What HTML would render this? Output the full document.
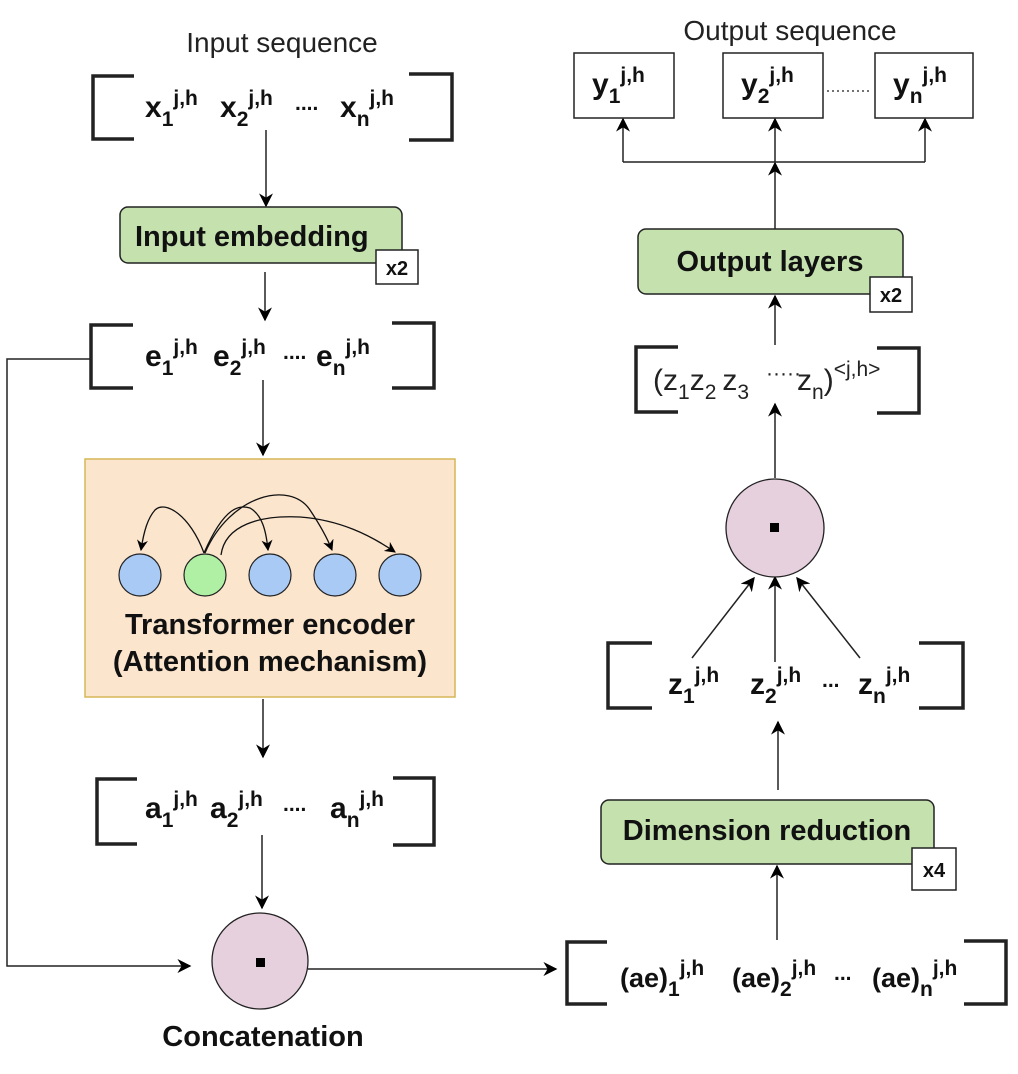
<!DOCTYPE html>
<html><head><meta charset="utf-8"><style>
html,body{margin:0;padding:0;background:#fff;}
svg{display:block;}
text{font-family:"Liberation Sans",Arial,sans-serif;fill:#111;}
.b{font-weight:bold;font-size:29px;}
.m{font-weight:bold;font-size:30px;}
.s{font-size:21px;font-weight:bold;}
.r{font-size:30px;fill:#222;}
.rs{font-size:21px;fill:#222;}
</style></head><body>
<svg width="1018" height="1074" viewBox="0 0 1018 1074" xmlns="http://www.w3.org/2000/svg">
<defs>
<marker id="a" viewBox="0 0 10 10" refX="9" refY="5" markerWidth="11" markerHeight="11" markerUnits="userSpaceOnUse" orient="auto">
<path d="M0,0 L10,5 L0,10 L3,5 z" fill="#000"/></marker>
<marker id="a2" viewBox="0 0 10 10" refX="9" refY="5" markerWidth="14" markerHeight="14" markerUnits="userSpaceOnUse" orient="auto">
<path d="M0,0 L10,5 L0,10 L3,5 z" fill="#000"/></marker>
</defs>
<g fill="none" stroke="#222" stroke-width="1.5">
<line x1="266" y1="130" x2="266" y2="206" marker-end="url(#a2)"/>
<line x1="265" y1="272" x2="265" y2="320" marker-end="url(#a2)"/>
<line x1="263" y1="380" x2="263" y2="455" marker-end="url(#a2)"/>
<line x1="263" y1="699" x2="263" y2="757" marker-end="url(#a2)"/>
<line x1="262" y1="835" x2="262" y2="908" marker-end="url(#a2)"/>
<polyline points="90,359 7,359 7,966 190,966" marker-end="url(#a2)"/>
<line x1="308" y1="969" x2="556" y2="969" marker-end="url(#a2)"/>
<line x1="777" y1="940" x2="777" y2="866" marker-end="url(#a2)"/>
<line x1="778" y1="790" x2="778" y2="722" marker-end="url(#a2)"/>
<line x1="692" y1="658" x2="754" y2="578" marker-end="url(#a2)"/>
<line x1="775" y1="662" x2="775" y2="577" marker-end="url(#a2)"/>
<line x1="860" y1="658" x2="797" y2="578" marker-end="url(#a2)"/>
<line x1="775" y1="478" x2="775" y2="404" marker-end="url(#a2)"/>
<line x1="775" y1="345" x2="775" y2="296" marker-end="url(#a2)"/>
<line x1="775" y1="229" x2="775" y2="163" marker-end="url(#a2)"/>
<polyline points="623,162 925,162"/>
<line x1="623" y1="162" x2="623" y2="119" marker-end="url(#a2)"/>
<line x1="775" y1="162" x2="775" y2="119" marker-end="url(#a2)"/>
<line x1="925" y1="162" x2="925" y2="119" marker-end="url(#a2)"/>
</g>
<g fill="none" stroke="#222" stroke-width="3.5">
<polyline points="134,76 93,76 93,139 134,139"/>
<polyline points="409,74 452,74 452,140 409,140"/>
<polyline points="133,325 91,325 91,388 133,388"/>
<polyline points="392,323 434,323 434,388 392,388"/>
<polyline points="137,779 97,779 97,844 137,844"/>
<polyline points="393,778 434,778 434,845 393,845"/>
<polyline points="607,942 567,942 567,1004 607,1004"/>
<polyline points="964,941 1006,941 1006,1004 964,1004"/>
<polyline points="652,643 608,643 608,708 652,708"/>
<polyline points="919,643 963,643 963,708 919,708"/>
<polyline points="678,347 636,347 636,412 678,412"/>
<polyline points="877,348 919,348 919,413 877,413"/>
</g>
<rect x="120" y="207" width="282" height="56" rx="8" fill="#c4e1ae" stroke="#222" stroke-width="1.5"/>
<rect x="376" y="250" width="42" height="34" fill="#fff" stroke="#222" stroke-width="1.5"/>
<text x="397" y="275" text-anchor="middle" style="font-weight:bold;font-size:20px">x2</text>
<text x="135" y="246" class="b">Input embedding</text>

<rect x="638" y="229" width="265" height="65" rx="8" fill="#c4e1ae" stroke="#222" stroke-width="1.5"/>
<rect x="870" y="277" width="42" height="35" fill="#fff" stroke="#222" stroke-width="1.5"/>
<text x="891" y="302" text-anchor="middle" style="font-weight:bold;font-size:20px">x2</text>
<text x="770" y="271" text-anchor="middle" class="b">Output layers</text>

<rect x="601" y="800" width="333" height="64" rx="8" fill="#c4e1ae" stroke="#222" stroke-width="1.5"/>
<rect x="912" y="848" width="44" height="42" fill="#fff" stroke="#222" stroke-width="1.5"/>
<text x="934" y="877" text-anchor="middle" style="font-weight:bold;font-size:20px">x4</text>
<text x="767" y="840" text-anchor="middle" class="b">Dimension reduction</text>

<rect x="85" y="459" width="370" height="238" fill="#fbe5cd" stroke="#d6b656" stroke-width="1.5"/>
<g stroke="#222" stroke-width="1.2">
<circle cx="140" cy="575" r="21" fill="#a9caf5"/>
<circle cx="205" cy="575" r="21" fill="#b0f0a5"/>
<circle cx="270" cy="575" r="21" fill="#a9caf5"/>
<circle cx="335" cy="575" r="21" fill="#a9caf5"/>
<circle cx="400" cy="575" r="21" fill="#a9caf5"/>
</g>
<g fill="none" stroke="#111" stroke-width="1.3">
<path d="M204,553 C190,515 165,500 155,510 C148,518 144,530 141,550" marker-end="url(#a)"/>
<path d="M204,553 C225,505 240,505 250,508 C262,515 266,530 268,550" marker-end="url(#a)"/>
<path d="M205,553 C230,495 290,480 310,510 C320,525 328,540 332,550" marker-end="url(#a)"/>
<path d="M221,555 C225,525 260,515 300,517 C340,520 370,535 395,552" marker-end="url(#a)"/>
</g>
<text x="270" y="634" text-anchor="middle" class="b">Transformer encoder</text>
<text x="270" y="671" text-anchor="middle" class="b">(Attention mechanism)</text>

<circle cx="260" cy="961" r="48" fill="#e6d0de" stroke="#222" stroke-width="1.3"/>
<rect x="256" y="958" width="9" height="9" fill="#000"/>
<text x="263" y="1046" text-anchor="middle" class="b">Concatenation</text>

<circle cx="775" cy="528" r="49" fill="#e6d0de" stroke="#222" stroke-width="1.3"/>
<rect x="770" y="523" width="9" height="9" fill="#000"/>

<g fill="#fff" stroke="#222" stroke-width="1.5">
<rect x="574" y="53" width="100" height="65"/>
<rect x="723" y="53" width="100" height="65"/>
<rect x="875" y="53" width="98" height="65"/>
</g>
<line x1="827" y1="91" x2="872" y2="91" stroke="#444" stroke-width="1.5" stroke-dasharray="2,3"/>

<text x="282" y="52" text-anchor="middle" class="r" style="font-size:28px">Input sequence</text>
<text x="790" y="40" text-anchor="middle" class="r" style="font-size:28px">Output sequence</text>

<!-- y -->
<text x="592" y="94" class="m">y<tspan class="s" dy="9">1</tspan><tspan class="s" dy="-21">j,h</tspan></text>
<text x="741" y="94" class="m">y<tspan class="s" dy="9">2</tspan><tspan class="s" dy="-21">j,h</tspan></text>
<text x="893" y="94" class="m">y<tspan class="s" dy="9">n</tspan><tspan class="s" dy="-21">j,h</tspan></text>

<!-- x -->
<text x="145" y="117" class="m">x<tspan class="s" dy="9">1</tspan><tspan class="s" dy="-21">j,h</tspan></text>
<text x="220" y="117" class="m">x<tspan class="s" dy="9">2</tspan><tspan class="s" dy="-21">j,h</tspan></text>
<text x="295" y="110" class="s">....</text>
<text x="340" y="117" class="m">x<tspan class="s" dy="9">n</tspan><tspan class="s" dy="-21">j,h</tspan></text>

<!-- e -->
<text x="145" y="366" class="m">e<tspan class="s" dy="9">1</tspan><tspan class="s" dy="-21">j,h</tspan></text>
<text x="213" y="366" class="m">e<tspan class="s" dy="9">2</tspan><tspan class="s" dy="-21">j,h</tspan></text>
<text x="283" y="359" class="s">....</text>
<text x="316" y="366" class="m">e<tspan class="s" dy="9">n</tspan><tspan class="s" dy="-21">j,h</tspan></text>

<!-- a -->
<text x="145" y="818" class="m">a<tspan class="s" dy="9">1</tspan><tspan class="s" dy="-21">j,h</tspan></text>
<text x="210" y="818" class="m">a<tspan class="s" dy="9">2</tspan><tspan class="s" dy="-21">j,h</tspan></text>
<text x="283" y="811" class="s">....</text>
<text x="330" y="818" class="m">a<tspan class="s" dy="9">n</tspan><tspan class="s" dy="-21">j,h</tspan></text>

<!-- z -->
<text x="668" y="694" class="m">z<tspan class="s" dy="9">1</tspan><tspan class="s" dy="-21">j,h</tspan></text>
<text x="750" y="694" class="m">z<tspan class="s" dy="9">2</tspan><tspan class="s" dy="-21">j,h</tspan></text>
<text x="822" y="687" class="s">...</text>
<text x="858" y="694" class="m">z<tspan class="s" dy="9">n</tspan><tspan class="s" dy="-21">j,h</tspan></text>

<!-- ae -->
<text x="620" y="987" class="m" style="font-size:27px">(ae)<tspan class="s" dy="9">1</tspan><tspan class="s" dy="-21">j,h</tspan></text>
<text x="732" y="987" class="m" style="font-size:27px">(ae)<tspan class="s" dy="9">2</tspan><tspan class="s" dy="-21">j,h</tspan></text>
<text x="834" y="980" class="s">...</text>
<text x="872" y="987" class="m" style="font-size:27px">(ae)<tspan class="s" dy="9">n</tspan><tspan class="s" dy="-21">j,h</tspan></text>

<!-- (z1z2 z3 ...zn)<j,h> -->
<text x="653" y="390" class="r">(z<tspan class="rs" dy="9">1</tspan><tspan dy="-9">z</tspan><tspan class="rs" dy="9">2</tspan><tspan dx="6" dy="-9">z</tspan><tspan class="rs" dy="9">3</tspan></text>
<text x="766" y="380" class="rs">·····</text>
<text x="797" y="390" class="r">z<tspan class="rs" dy="9">n</tspan><tspan dy="-9">)</tspan><tspan class="rs" dy="-14">&lt;j,h&gt;</tspan></text>
</svg>
</body></html>
